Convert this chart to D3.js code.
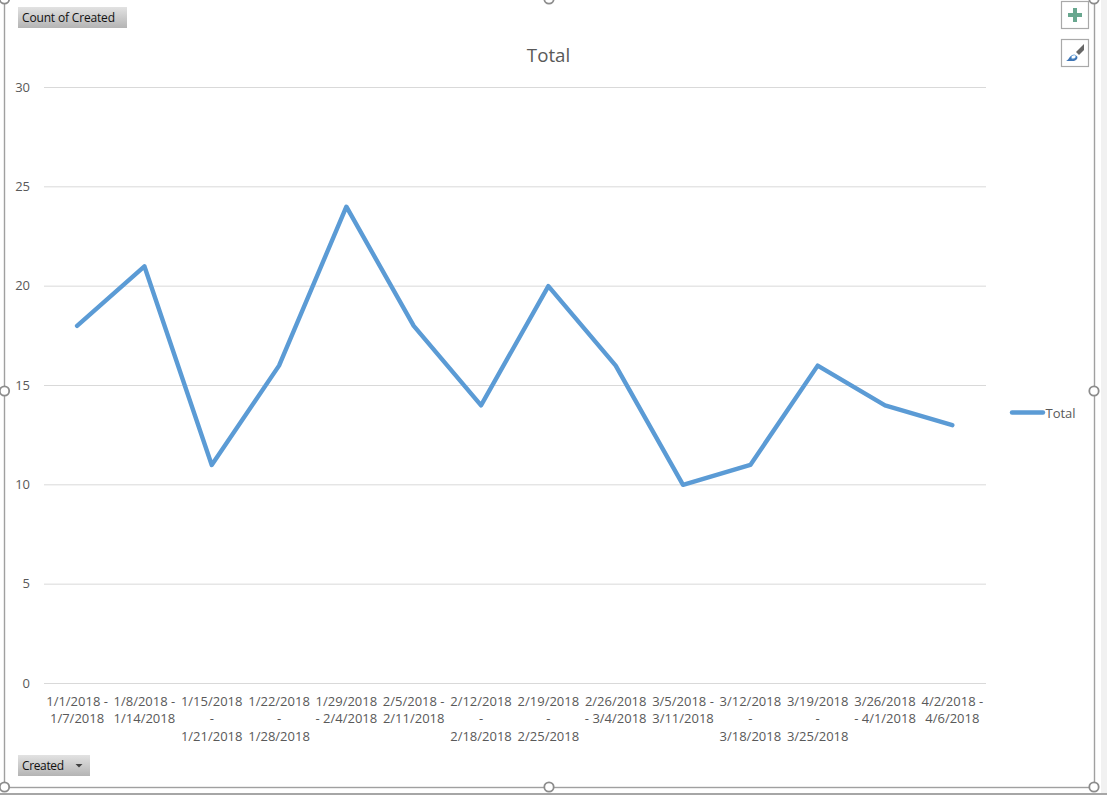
<!DOCTYPE html>
<html>
<head>
<meta charset="utf-8">
<script src="https://cdnjs.cloudflare.com/ajax/libs/d3/7.8.5/d3.min.js"></script>
<style>
html,body{margin:0;padding:0;background:#fff;overflow:hidden}
svg{display:block}
text{font-family:"Open Sans","Noto Sans",sans-serif}
</style>
</head>
<body>
<svg id="c" width="1107" height="795"></svg>
<script>
const categories = [
  ["1/1/2018 -","1/7/2018"],
  ["1/8/2018 -","1/14/2018"],
  ["1/15/2018","-","1/21/2018"],
  ["1/22/2018","-","1/28/2018"],
  ["1/29/2018","- 2/4/2018"],
  ["2/5/2018 -","2/11/2018"],
  ["2/12/2018","-","2/18/2018"],
  ["2/19/2018","-","2/25/2018"],
  ["2/26/2018","- 3/4/2018"],
  ["3/5/2018 -","3/11/2018"],
  ["3/12/2018","-","3/18/2018"],
  ["3/19/2018","-","3/25/2018"],
  ["3/26/2018","- 4/1/2018"],
  ["4/2/2018 -","4/6/2018"]
];
const values = [18,21,11,16,24,18,14,20,16,10,11,16,14,13];
const yTicks = [0,5,10,15,20,25,30];
const seriesName = "Total";
const chartTitle = "Total";
const fieldValue = "Count of Created";
const fieldAxis = "Created";

const svg = d3.select("#c");
const x = d3.scaleBand().domain(d3.range(categories.length)).range([43.4,986]);
const y = d3.scaleLinear().domain([0,30]).range([683.5,87.5]);
const grey = "#595959";

// window strip + frame
svg.append("rect").attr("x",1101).attr("y",0).attr("width",6).attr("height",795).attr("fill","#f1f1f1");
svg.append("rect").attr("x",0).attr("y",793).attr("width",1107).attr("height",2).attr("fill","#a6a6a6");
svg.append("rect").attr("x",4.5).attr("y",-4).attr("width",1090).attr("height",791.5)
  .attr("fill","none").attr("stroke","#a0a0a0").attr("stroke-width",1.4);

// gridlines and y axis
const yAxis = d3.axisLeft(y).tickValues(yTicks).tickSize(942).tickSizeOuter(0).tickPadding(14);
const gy = svg.append("g").attr("transform","translate(986,0)").call(yAxis);
gy.select(".domain").remove();
gy.selectAll("line").attr("stroke","#d9d9d9").attr("stroke-width",1).attr("transform","translate(0,-0.5)");
gy.selectAll("text").attr("fill",grey).attr("font-size",13).attr("dy","0.32em").attr("transform","translate(0,-0.5)");

// x labels
const xl = svg.append("g");
categories.forEach((lines,i)=>{
  const t = xl.append("text").attr("text-anchor","middle").attr("fill",grey).attr("font-size",13);
  lines.forEach((s,j)=>t.append("tspan").attr("x",x(i)+x.bandwidth()/2).attr("y",706+j*17.3).text(s));
});

// line
const line = d3.line().x((d,i)=>x(i)+x.bandwidth()/2).y(d=>y(d));
svg.append("path").datum(values).attr("d",line).attr("fill","none")
  .attr("stroke","#5b9bd5").attr("stroke-width",4.4).attr("stroke-linejoin","round").attr("stroke-linecap","round");

// title
svg.append("text").attr("x",548.5).attr("y",61.5).attr("text-anchor","middle")
  .attr("font-size",18.7).attr("fill",grey).text(chartTitle);

// legend
svg.append("line").attr("x1",1012).attr("x2",1043).attr("y1",412.5).attr("y2",412.5)
  .attr("stroke","#5b9bd5").attr("stroke-width",4.4).attr("stroke-linecap","round");
svg.append("text").attr("x",1045.5).attr("y",418).attr("font-size",13).attr("fill",grey).text(seriesName);

// field buttons
const defs = svg.append("defs");
const g = defs.append("linearGradient").attr("id","btn").attr("x1",0).attr("x2",0).attr("y1",0).attr("y2",1);
g.append("stop").attr("offset","0").attr("stop-color","#e2e2e2");
g.append("stop").attr("offset","1").attr("stop-color","#b4b4b4");
svg.append("rect").attr("x",18).attr("y",7).attr("width",109).attr("height",21).attr("fill","url(#btn)");
svg.append("text").attr("x",22).attr("y",22).attr("font-size",12).attr("fill","#111").attr("textLength",93).text(fieldValue);
svg.append("rect").attr("x",18).attr("y",755).attr("width",72).attr("height",21).attr("fill","url(#btn)");
svg.append("text").attr("x",22).attr("y",770).attr("font-size",12).attr("fill","#111").attr("textLength",42).text(fieldAxis);
svg.append("path").attr("d","M75.5,764h7l-3.5,3.5z").attr("fill","#404040");

// side buttons
[[1062,1],[1062,39]].forEach(([bx,by])=>{
  svg.append("rect").attr("x",bx-0.5).attr("y",by+0.5).attr("width",27).attr("height",27)
    .attr("fill","#fff").attr("stroke","#a9a9a9").attr("stroke-width",1.2);
});
svg.append("path").attr("d","M1073,8h4v5h5v4h-5v5h-4v-5h-5v-4h5z").attr("fill","#68a78f");
svg.append("path").attr("d","M1076,52l8,-8v6l-5,5z").attr("fill","#666");
svg.append("path").attr("d","M1066,61c3,-1 3,-5 7,-6l4,1c1,2 0,3 -1,4l-2,1z").attr("fill","#3f75b5");
svg.append("path").attr("d","M1071,57c1,-2 4,-3 5,-1c0,2 -2,3 -4,3z").attr("fill","#fff").attr("stroke","#5b9bd5").attr("stroke-width",0.8);

// selection handles
[[4.5,-1],[549,-1],[1094,-1],[4.5,391],[1094,391],[4.5,787],[549,787],[1094,787]].forEach(([hx,hy])=>{
  svg.append("circle").attr("cx",hx).attr("cy",hy).attr("r",4.7)
    .attr("fill","#fff").attr("stroke","#8c8c8c").attr("stroke-width",1.8);
});
</script>
</body>
</html>
